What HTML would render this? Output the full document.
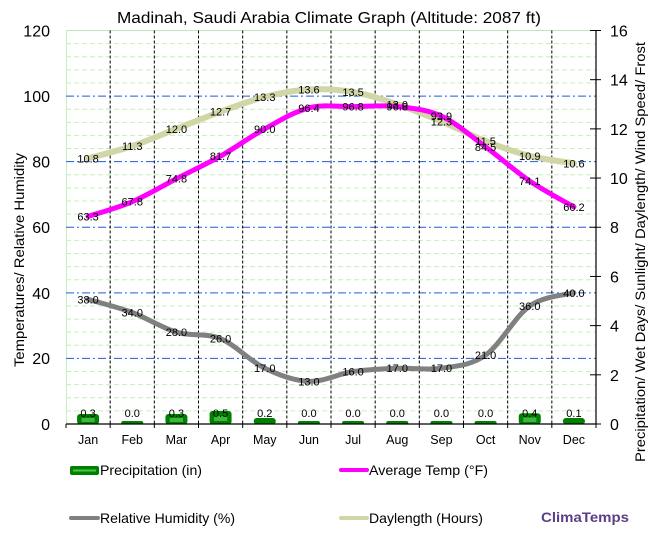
<!DOCTYPE html>
<html><head><meta charset="utf-8"><style>
html,body{margin:0;padding:0;background:#fff;}
svg{display:block;}
text{font-family:"Liberation Sans",Arial,sans-serif;}
</style></head><body>
<svg width="661" height="543" viewBox="0 0 661 543" xmlns="http://www.w3.org/2000/svg">
<rect width="661" height="543" fill="#fff"/>
<!-- title -->
<text x="117" y="23" font-size="16" fill="#000" textLength="424" lengthAdjust="spacingAndGlyphs">Madinah, Saudi Arabia Climate Graph (Altitude: 2087 ft)</text>

<!-- minor green grid -->
<g stroke="#c4f0bc" stroke-width="1" stroke-dasharray="5,3">
<line x1="66" x2="596" y1="410.88" y2="410.88"/>
<line x1="66" x2="596" y1="397.77" y2="397.77"/>
<line x1="66" x2="596" y1="384.65" y2="384.65"/>
<line x1="66" x2="596" y1="371.53" y2="371.53"/>
<line x1="66" x2="596" y1="345.30" y2="345.30"/>
<line x1="66" x2="596" y1="332.18" y2="332.18"/>
<line x1="66" x2="596" y1="319.07" y2="319.07"/>
<line x1="66" x2="596" y1="305.95" y2="305.95"/>
<line x1="66" x2="596" y1="279.72" y2="279.72"/>
<line x1="66" x2="596" y1="266.60" y2="266.60"/>
<line x1="66" x2="596" y1="253.48" y2="253.48"/>
<line x1="66" x2="596" y1="240.37" y2="240.37"/>
<line x1="66" x2="596" y1="214.13" y2="214.13"/>
<line x1="66" x2="596" y1="201.02" y2="201.02"/>
<line x1="66" x2="596" y1="187.90" y2="187.90"/>
<line x1="66" x2="596" y1="174.78" y2="174.78"/>
<line x1="66" x2="596" y1="148.55" y2="148.55"/>
<line x1="66" x2="596" y1="135.43" y2="135.43"/>
<line x1="66" x2="596" y1="122.32" y2="122.32"/>
<line x1="66" x2="596" y1="109.20" y2="109.20"/>
<line x1="66" x2="596" y1="82.97" y2="82.97"/>
<line x1="66" x2="596" y1="69.85" y2="69.85"/>
<line x1="66" x2="596" y1="56.73" y2="56.73"/>
<line x1="66" x2="596" y1="43.62" y2="43.62"/>
</g>
<line x1="66" x2="596" y1="30.5" y2="30.5" stroke="#b8ecb0" stroke-width="1"/>
<line x1="66.5" x2="66.5" y1="30.5" y2="424" stroke="#c4f0bc" stroke-width="1"/>

<!-- blue dash-dot major grid -->
<g stroke="#1a5fd6" stroke-width="1" stroke-dasharray="8,3,2,3">
<line x1="66" x2="596" y1="358.42" y2="358.42"/>
<line x1="66" x2="596" y1="292.83" y2="292.83"/>
<line x1="66" x2="596" y1="227.25" y2="227.25"/>
<line x1="66" x2="596" y1="161.67" y2="161.67"/>
<line x1="66" x2="596" y1="96.08" y2="96.08"/>
</g>

<!-- month dividers -->
<g stroke="#000" stroke-width="1" stroke-dasharray="3,2">
<line x1="110.17" x2="110.17" y1="30.5" y2="424"/>
<line x1="154.33" x2="154.33" y1="30.5" y2="424"/>
<line x1="198.5" x2="198.5" y1="30.5" y2="424"/>
<line x1="242.67" x2="242.67" y1="30.5" y2="424"/>
<line x1="286.83" x2="286.83" y1="30.5" y2="424"/>
<line x1="331" x2="331" y1="30.5" y2="424"/>
<line x1="375.17" x2="375.17" y1="30.5" y2="424"/>
<line x1="419.33" x2="419.33" y1="30.5" y2="424"/>
<line x1="463.5" x2="463.5" y1="30.5" y2="424"/>
<line x1="507.67" x2="507.67" y1="30.5" y2="424"/>
<line x1="551.83" x2="551.83" y1="30.5" y2="424"/>
</g>

<!-- precipitation bars -->
<g fill="#008000">
<rect x="77.08" y="414" width="22" height="10.5" rx="3"/>
<rect x="121.25" y="421" width="22" height="3.5" rx="2"/>
<rect x="165.42" y="414" width="22" height="10.5" rx="3"/>
<rect x="209.58" y="411" width="22" height="13.5" rx="3"/>
<rect x="253.75" y="418" width="22" height="6.5" rx="3"/>
<rect x="297.92" y="421" width="22" height="3.5" rx="2"/>
<rect x="342.08" y="421" width="22" height="3.5" rx="2"/>
<rect x="386.25" y="421" width="22" height="3.5" rx="2"/>
<rect x="430.42" y="421" width="22" height="3.5" rx="2"/>
<rect x="474.58" y="421" width="22" height="3.5" rx="2"/>
<rect x="518.75" y="413.3" width="22" height="11.2" rx="3"/>
<rect x="562.92" y="418" width="22" height="6.5" rx="3"/>
</g>
<g fill="#3cb83c">
<rect x="81.5" y="418" width="13.2" height="4"/>
<rect x="169.8" y="418" width="13.2" height="4"/>
<rect x="214" y="416" width="13.2" height="5"/>
<rect x="523.2" y="417.5" width="13.2" height="4.5"/>
</g>

<!-- axes -->
<line x1="66" x2="596" y1="424" y2="424" stroke="#000" stroke-width="1.2"/>
<g stroke="#000" stroke-width="1">
<line x1="66" x2="66" y1="424" y2="428"/>
<line x1="110.17" x2="110.17" y1="424" y2="428"/>
<line x1="154.33" x2="154.33" y1="424" y2="428"/>
<line x1="198.5" x2="198.5" y1="424" y2="428"/>
<line x1="242.67" x2="242.67" y1="424" y2="428"/>
<line x1="286.83" x2="286.83" y1="424" y2="428"/>
<line x1="331" x2="331" y1="424" y2="428"/>
<line x1="375.17" x2="375.17" y1="424" y2="428"/>
<line x1="419.33" x2="419.33" y1="424" y2="428"/>
<line x1="463.5" x2="463.5" y1="424" y2="428"/>
<line x1="507.67" x2="507.67" y1="424" y2="428"/>
<line x1="551.83" x2="551.83" y1="424" y2="428"/>
<line x1="596" x2="596" y1="424" y2="428"/>
</g>
<line x1="596" x2="596" y1="30.5" y2="424" stroke="#000" stroke-width="1.2"/>
<g stroke="#000" stroke-width="1">
<line x1="590" x2="601" y1="424" y2="424"/>
<line x1="590" x2="601" y1="374.81" y2="374.81"/>
<line x1="590" x2="601" y1="325.63" y2="325.63"/>
<line x1="590" x2="601" y1="276.44" y2="276.44"/>
<line x1="590" x2="601" y1="227.25" y2="227.25"/>
<line x1="590" x2="601" y1="178.06" y2="178.06"/>
<line x1="590" x2="601" y1="128.88" y2="128.88"/>
<line x1="590" x2="601" y1="79.69" y2="79.69"/>
<line x1="590" x2="601" y1="30.5" y2="30.5"/>
</g>

<!-- left axis labels -->
<g font-size="16" fill="#000" text-anchor="end">
<text x="50" y="430">0</text>
<text x="50" y="364">20</text>
<text x="50" y="299">40</text>
<text x="50" y="233">60</text>
<text x="50" y="167.5">80</text>
<text x="50" y="102">100</text>
<text x="50" y="36.5">120</text>
</g>
<!-- right axis labels -->
<g font-size="16" fill="#000">
<text x="610" y="430">0</text>
<text x="610" y="380.8">2</text>
<text x="610" y="331.6">4</text>
<text x="610" y="282.4">6</text>
<text x="610" y="233.2">8</text>
<text x="610" y="184">10</text>
<text x="610" y="134.9">12</text>
<text x="610" y="85.7">14</text>
<text x="610" y="36.5">16</text>
</g>

<!-- month labels -->
<g font-family="DejaVu Sans, Verdana, sans-serif" font-size="12.5" fill="#000" text-anchor="middle" style="font-family:'DejaVu Sans',Verdana,sans-serif">
<text x="88.08" y="444">Jan</text>
<text x="132.25" y="444">Feb</text>
<text x="176.42" y="444">Mar</text>
<text x="220.58" y="444">Apr</text>
<text x="264.75" y="444">May</text>
<text x="308.92" y="444">Jun</text>
<text x="353.08" y="444">Jul</text>
<text x="397.25" y="444">Aug</text>
<text x="441.42" y="444">Sep</text>
<text x="485.58" y="444">Oct</text>
<text x="529.75" y="444">Nov</text>
<text x="573.92" y="444">Dec</text>
</g>

<!-- axis titles -->
<text transform="translate(24,260) rotate(-90)" font-size="14" fill="#000" text-anchor="middle" textLength="214" lengthAdjust="spacingAndGlyphs">Temperatures/ Relative Humidity</text>
<text transform="translate(645,252) rotate(-90)" font-size="14" fill="#000" text-anchor="middle" textLength="420" lengthAdjust="spacingAndGlyphs">Precipitation/ Wet Days/ Sunlight/ Daylength/ Wind Speed/ Frost</text>

<!-- series -->
<path fill="none" stroke="#d0d6a6" stroke-width="6" stroke-linecap="round" d="M88.08,158.39 C95.44,156.34 117.53,151.01 132.25,146.09 C146.97,141.17 161.70,134.61 176.42,128.87 C191.14,123.13 205.86,116.99 220.58,111.66 C235.30,106.33 250.03,100.59 264.75,96.90 C279.47,93.21 294.20,90.34 308.92,89.52 C323.64,88.70 338.36,89.52 353.08,91.98 C367.80,94.44 382.53,99.36 397.25,104.28 C411.97,109.20 426.70,115.34 441.42,121.49 C456.14,127.64 470.86,135.43 485.58,141.17 C500.30,146.91 515.03,152.24 529.75,155.93 C544.47,159.62 566.56,162.07 573.92,163.30"/>
<path fill="none" stroke="#ff00ff" stroke-width="5" stroke-linecap="round" d="M88.08,216.43 C95.44,213.97 117.53,207.96 132.25,201.67 C146.97,195.39 161.70,186.32 176.42,178.72 C191.14,171.12 205.86,164.40 220.58,156.09 C235.30,147.78 250.03,136.90 264.75,128.87 C279.47,120.84 294.20,111.61 308.92,107.89 C323.64,104.18 338.36,106.80 353.08,106.58 C367.80,106.36 382.53,104.99 397.25,106.58 C411.97,108.17 426.70,109.37 441.42,116.09 C456.14,122.81 470.86,136.09 485.58,146.91 C500.30,157.73 515.03,171.01 529.75,181.01 C544.47,191.01 566.56,202.60 573.92,206.92"/>
<path fill="none" stroke="#808080" stroke-width="5" stroke-linecap="round" d="M88.08,299.39 C95.44,301.58 117.53,307.05 132.25,312.51 C146.97,317.98 161.70,327.81 176.42,332.18 C191.14,336.55 205.86,332.73 220.58,338.74 C235.30,344.75 250.03,361.15 264.75,368.25 C279.47,375.36 294.20,380.82 308.92,381.37 C323.64,381.92 338.36,373.72 353.08,371.53 C367.80,369.34 382.53,368.80 397.25,368.25 C411.97,367.70 426.70,370.44 441.42,368.25 C456.14,366.07 470.86,365.52 485.58,355.14 C500.30,344.76 515.03,316.34 529.75,305.95 C544.47,295.57 566.56,295.02 573.92,292.83"/>

<!-- data labels -->
<g font-size="11" fill="#000" text-anchor="middle">
<!-- daylength -->
<text x="88.08" y="162.4">10.8</text>
<text x="132.25" y="150.1">11.3</text>
<text x="176.42" y="132.9">12.0</text>
<text x="220.58" y="115.7">12.7</text>
<text x="264.75" y="100.9">13.3</text>
<text x="308.92" y="93.5">13.6</text>
<text x="353.08" y="96">13.5</text>
<text x="397.25" y="108.3">13.0</text>
<text x="441.42" y="125.5">12.3</text>
<text x="485.58" y="145.2">11.5</text>
<text x="529.75" y="159.9">10.9</text>
<text x="573.92" y="167.3">10.6</text>
<!-- temp -->
<text x="88.08" y="220.4">63.3</text>
<text x="132.25" y="205.7">67.8</text>
<text x="176.42" y="182.7">74.8</text>
<text x="220.58" y="160.1">81.7</text>
<text x="264.75" y="132.9">90.0</text>
<text x="308.92" y="111.9">96.4</text>
<text x="353.08" y="110.6">96.8</text>
<text x="397.25" y="110.6">96.8</text>
<text x="441.42" y="120.1">93.9</text>
<text x="485.58" y="150.9">84.5</text>
<text x="529.75" y="185">74.1</text>
<text x="573.92" y="210.9">66.2</text>
<!-- humidity -->
<text x="88.08" y="303.4">38.0</text>
<text x="132.25" y="316.5">34.0</text>
<text x="176.42" y="336.2">28.0</text>
<text x="220.58" y="342.7">26.0</text>
<text x="264.75" y="372.2">17.0</text>
<text x="308.92" y="385.4">13.0</text>
<text x="353.08" y="375.5">16.0</text>
<text x="397.25" y="372.2">17.0</text>
<text x="441.42" y="372.2">17.0</text>
<text x="485.58" y="359.1">21.0</text>
<text x="529.75" y="310">36.0</text>
<text x="573.92" y="296.8">40.0</text>
<!-- precip -->
<text x="88.08" y="417">0.3</text>
<text x="132.25" y="417">0.0</text>
<text x="176.42" y="417">0.3</text>
<text x="220.58" y="417">0.5</text>
<text x="264.75" y="417">0.2</text>
<text x="308.92" y="417">0.0</text>
<text x="353.08" y="417">0.0</text>
<text x="397.25" y="417">0.0</text>
<text x="441.42" y="417">0.0</text>
<text x="485.58" y="417">0.0</text>
<text x="529.75" y="417">0.4</text>
<text x="573.92" y="417">0.1</text>
</g>

<!-- legend -->
<rect x="70" y="466" width="29" height="9" rx="2" fill="#008000"/>
<rect x="73" y="469.5" width="23" height="2" fill="#4cc44c"/>
<text x="100" y="475" font-size="14" fill="#000" textLength="102" lengthAdjust="spacingAndGlyphs">Precipitation (in)</text>
<line x1="341" x2="367" y1="470" y2="470" stroke="#ff00ff" stroke-width="4" stroke-linecap="round"/>
<text x="369" y="475" font-size="14" fill="#000" textLength="119" lengthAdjust="spacingAndGlyphs">Average Temp (°F)</text>
<line x1="71" x2="98" y1="518" y2="518" stroke="#808080" stroke-width="4" stroke-linecap="round"/>
<text x="100" y="523" font-size="14" fill="#000" textLength="135" lengthAdjust="spacingAndGlyphs">Relative Humidity (%)</text>
<line x1="341" x2="367" y1="518" y2="518" stroke="#d0d6a6" stroke-width="4" stroke-linecap="round"/>
<text x="369" y="523" font-size="14" fill="#000" textLength="114" lengthAdjust="spacingAndGlyphs">Daylength (Hours)</text>
<text x="541" y="522" font-size="14" font-weight="bold" fill="#5b3f86" textLength="88" lengthAdjust="spacingAndGlyphs">ClimaTemps</text>
</svg>
</body></html>
